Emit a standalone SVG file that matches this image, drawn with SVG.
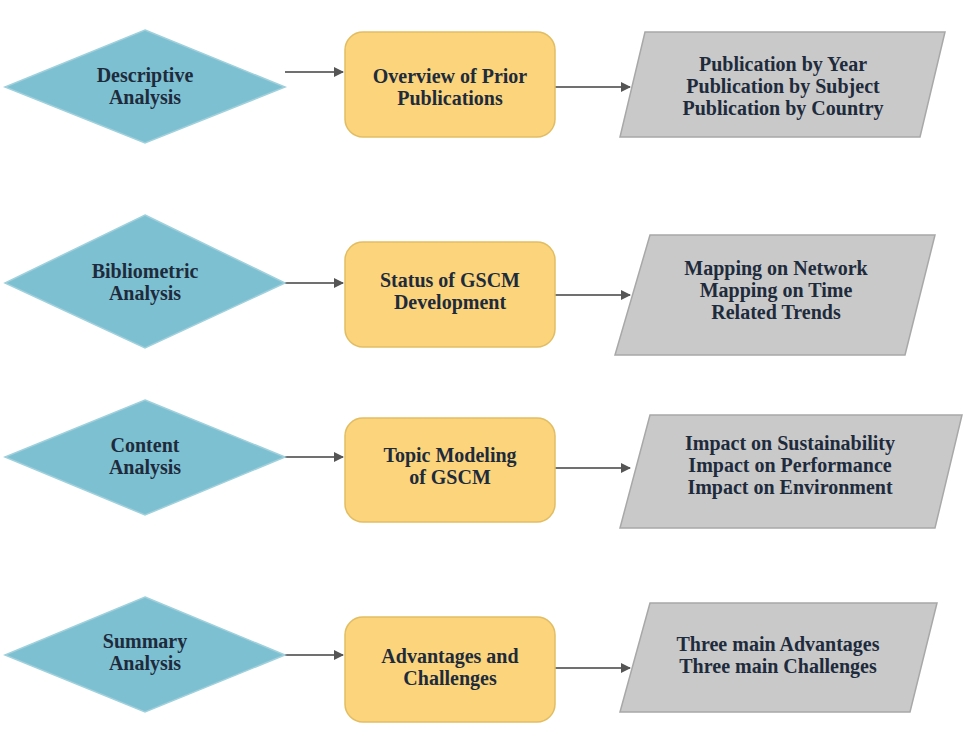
<svg xmlns="http://www.w3.org/2000/svg" width="964" height="742" viewBox="0 0 964 742">
<defs>
<style>
.d{fill:#7dc0d1;stroke:#9fd0dc;stroke-width:1.5}
.r{fill:#fbd47b;stroke:#e2bd62;stroke-width:1.5}
.p{fill:#c9c9c9;stroke:#a8a8a8;stroke-width:1.5}
.t{font-family:'Liberation Serif','Times New Roman','DejaVu Serif',serif;font-size:20px;font-weight:700;fill:#1e2b3c;text-anchor:middle}
.c{stroke:#707070;stroke-width:2;fill:none;marker-end:url(#a)}
</style>
<marker id="a" markerWidth="10" markerHeight="10" refX="9" refY="5" orient="auto" markerUnits="userSpaceOnUse"><path d="M0,0L10,5L0,10z" fill="#555"/></marker>
</defs>
<rect width="964" height="742" fill="#fff"/>
<g id="connectors">
<path class="c" d="M285,72H343"/><path class="c" d="M555,87H630"/>
<path class="c" d="M285,283H343"/><path class="c" d="M555,295H630"/>
<path class="c" d="M285,457H343"/><path class="c" d="M555,468H630"/>
<path class="c" d="M285,655H343"/><path class="c" d="M555,668H630"/>
</g>
<g class="t">
<g id="n1"><path class="d" d="M145,30L285,87L145,143L5,87z"/><text x="145" y="82">Descriptive</text><text x="145" y="104">Analysis</text></g>
<g id="n2"><rect class="r" x="345" y="32" width="210" height="105" rx="18"/><text x="450" y="83">Overview of Prior</text><text x="450" y="105">Publications</text></g>
<g id="n3"><path class="p" d="M645,32H945L920,137H620z"/><text x="783" y="71">Publication by Year</text><text x="783" y="93">Publication by Subject</text><text x="783" y="115">Publication by Country</text></g>
<g id="n4"><path class="d" d="M145,215L285,283L145,348L5,283z"/><text x="145" y="278">Bibliometric</text><text x="145" y="300">Analysis</text></g>
<g id="n5"><rect class="r" x="345" y="242" width="210" height="105" rx="18"/><text x="450" y="287">Status of GSCM</text><text x="450" y="309">Development</text></g>
<g id="n6"><path class="p" d="M650,235H935L905,355H615z"/><text x="776" y="275">Mapping on Network</text><text x="776" y="297">Mapping on Time</text><text x="776" y="319">Related Trends</text></g>
<g id="n7"><path class="d" d="M145,400L285,457L145,515L5,457z"/><text x="145" y="452">Content</text><text x="145" y="474">Analysis</text></g>
<g id="n8"><rect class="r" x="345" y="418" width="210" height="104" rx="18"/><text x="450" y="462">Topic Modeling</text><text x="450" y="484">of GSCM</text></g>
<g id="n9"><path class="p" d="M650,415H962L935,528H620z"/><text x="790" y="450">Impact on Sustainability</text><text x="790" y="472">Impact on Performance</text><text x="790" y="494">Impact on Environment</text></g>
<g id="n10"><path class="d" d="M145,597L285,655L145,712L5,655z"/><text x="145" y="648">Summary</text><text x="145" y="670">Analysis</text></g>
<g id="n11"><rect class="r" x="345" y="617" width="210" height="105" rx="18"/><text x="450" y="663">Advantages and</text><text x="450" y="685">Challenges</text></g>
<g id="n12"><path class="p" d="M650,603H937L910,712H620z"/><text x="778" y="651">Three main Advantages</text><text x="778" y="673">Three main Challenges</text></g>
</g>
</svg>
